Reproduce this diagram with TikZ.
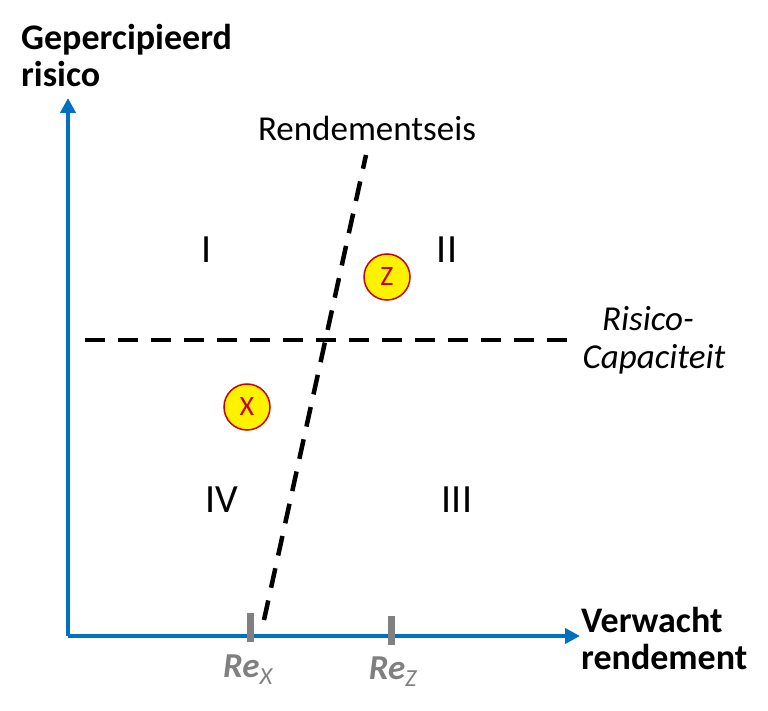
\documentclass[tikz,border=0pt]{standalone}
\usepackage{fontspec}
\setmainfont{Carlito}
\usetikzlibrary{arrows.meta}
\definecolor{axisblue}{RGB}{0,112,192}
\definecolor{tickgray}{RGB}{128,128,128}
\definecolor{markred}{RGB}{204,0,0}
\tikzset{
  axis/.style={line width=4pt, axisblue, -{Triangle[length=15pt,width=15pt]}},
  eisline/.style={line width=4.5pt, dash pattern=on 20pt off 13pt},
  tickmark/.style={line width=7pt, tickgray},
  quadrant/.style={font=\fontsize{40}{40}\selectfont},
  stock/.style={circle, draw=markred, line width=1.5pt, fill=yellow, minimum size=46pt, inner sep=0pt, text=markred, font=\fontsize{28}{28}\selectfont},
  axlabel/.style={align=left, inner sep=0pt, font=\bfseries\fontsize{36}{37}\selectfont},
  relabel/.style={tickgray, font=\bfseries\itshape\fontsize{35}{35}\selectfont},
}
\begin{document}
\begin{tikzpicture}[x=1pt, y=-1pt]
    \useasboundingbox (0,0) rectangle (768,711);
    % axes
    \coordinate (origin) at (68,636);
    \coordinate (ytop) at (68,98);
    \coordinate (xend) at (580,636);
    \draw[axis] (origin) -- (ytop);
    \draw[axis] (origin) -- (xend);
    \node[axlabel, anchor=north west] (ylabel) at (21,24) {Gepercipieerd\\risico};
    \node[axlabel, anchor=north west] (xlabel) at (581,607) {Verwacht\\rendement};
    % risk capacity and required return
    \coordinate (capleft) at (85,340);
    \coordinate (capright) at (568,340);
    \draw[eisline] (capleft) -- (capright);
    \coordinate (eisbottom) at (264,620);
    \coordinate (eistop) at (366,155);
    \draw[eisline] (eisbottom) -- (eistop);
    \node[font=\fontsize{35}{35}\selectfont] (eislabel) at (367,128) {Rendementseis};
    \node[align=center, font=\itshape\fontsize{35}{38}\selectfont] (caplabel) at (654,340) {\hspace*{-12pt}Risico-\\Capaciteit};
    % quadrants
    \node[quadrant] (qI) at (207,250) {I};
    \node[quadrant] (qII) at (447,250) {II};
    \node[quadrant] (qIII) at (457,500) {III};
    \node[quadrant] (qIV) at (222,500) {IV};
    % portfolios
    \node[stock] (z) at (387,277) {Z};
    \node[stock] (x) at (247,407) {X};
    % return ticks
    \draw[tickmark] (250,613) -- (250,642);
    \draw[tickmark] (391,616) -- (391,645);
    \node[relabel] (rex) at (248,670) {Re\textsubscript{\mdseries X}};
    \node[relabel] (rez) at (393,672) {Re\textsubscript{\mdseries Z}};
\end{tikzpicture}
\end{document}
